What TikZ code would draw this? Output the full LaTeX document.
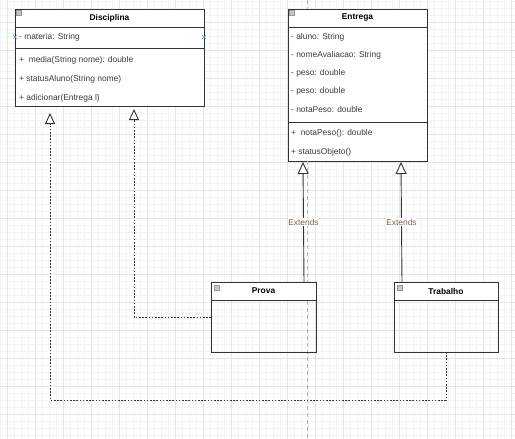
\documentclass[tikz,border=0pt]{standalone}
\usepackage{fontspec}
\setmainfont{Liberation Sans}
\usetikzlibrary{arrows.meta}
\definecolor{gridmaj}{HTML}{E4E4E4}
\definecolor{gridmin}{HTML}{F3F3F3}
\definecolor{edge}{HTML}{333333}
\definecolor{itemtxt}{HTML}{3A3A3A}
\definecolor{exttxt}{HTML}{7A6452}
\definecolor{selblue}{HTML}{29A8E0}
\definecolor{guide}{HTML}{B8B8B8}
\tikzset{
  classbox/.style={draw=edge, line width=0.9pt, rectangle, inner sep=0pt, fill=white},
  openbox/.style={draw=edge, line width=0.9pt, rectangle, inner sep=0pt},
  title/.style={font=\fontsize{8.4}{10}\selectfont\bfseries, text=black, inner sep=0pt},
  item/.style={font=\fontsize{8.4}{10}\selectfont, text=itemtxt, anchor=west, inner sep=0pt},
  sepline/.style={draw=edge, line width=0.9pt},
  icon/.style={draw=gray!80, fill=gray!45, line width=0.4pt, minimum size=5pt, inner sep=0pt},
  extends/.style={draw=edge, line width=0.9pt, -{Triangle[open, length=12pt, width=11pt, fill=white]}},
  realize/.style={draw=edge, line width=0.9pt, dash pattern=on 1.6pt off 1.6pt, -{Triangle[open, length=11pt, width=10pt, fill=white]}},
  extlabel/.style={font=\fontsize{8.4}{10}\selectfont, text=exttxt, fill=white, inner sep=0.5pt},
  selmark/.style={draw=selblue, line width=0.7pt},
}
\begin{document}
\begin{tikzpicture}[x=1pt,y=-1pt]
\useasboundingbox (0,0) rectangle (515,439);
\fill[white] (0,0) rectangle (515,439);
% grid
\foreach \k in {0,...,74} {
  \draw[gridmin, line width=0.5pt] ({\k*7},0) -- ({\k*7},439);
}
\foreach \k in {0,...,63} {
  \draw[gridmin, line width=0.5pt] (0,{\k*7+1}) -- (515,{\k*7+1});
}
\foreach \k in {0,...,18} {
  \draw[gridmaj, line width=0.8pt] ({7+\k*28},0) -- ({7+\k*28},439);
}
\foreach \k in {0,...,15} {
  \draw[gridmaj, line width=0.8pt] (0,{22+\k*28-28}) -- (515,{22+\k*28-28});
}

% Disciplina
\node[classbox, anchor=north west, minimum width=189pt, minimum height=97pt] (disc) at (15,9) {};
\draw[sepline] (15,27) -- (204,27);
\draw[sepline] (15,48) -- (204,48);
\node[icon] (discicon) at (18.5,12.5) {};
\node[title] (disct) at (109.5,18) {Disciplina};
\node[item] (d1) at (19,37) {- materia: String};
\node[item] (d2) at (19,60) {+\ \ media(String nome): double};
\node[item] (d3) at (19,79) {+ statusAluno(String nome)};
\node[item] (d4) at (19,98) {+ adicionar(Entrega l)};
\draw[selmark] (13,35) -- (17,39) (13,39) -- (17,35);
\draw[selmark] (202,35) -- (206,39) (202,39) -- (206,35);

% Entrega
\node[classbox, anchor=north west, minimum width=139pt, minimum height=152pt] (entr) at (288,9) {};
\draw[sepline] (288,27) -- (427,27);
\draw[sepline] (288,122) -- (427,122);
\node[icon] (entricon) at (291.5,12.5) {};
\node[title] (entrt) at (357.5,18) {Entrega};
\node[item] (e1) at (291,37) {- aluno: String};
\node[item] (e2) at (291,55) {- nomeAvaliacao: String};
\node[item] (e3) at (291,73) {- peso: double};
\node[item] (e4) at (291,91) {- peso: double};
\node[item] (e5) at (291,109) {- notaPeso: double};
\node[item] (e6) at (291,133) {+\ \ notaPeso(): double};
\node[item] (e7) at (291,152) {+ statusObjeto()};

% guide (drawn over the transparent bodies below, hidden by the filled class boxes above)
\draw[guide, line width=0.6pt, dash pattern=on 4pt off 3pt] (307,0) -- (307,9);
\draw[guide, line width=0.6pt, dash pattern=on 4pt off 3pt] (307,161) -- (307,439);

% Prova
\fill[white] (211,282) rectangle (316,300);
\node[openbox, anchor=north west, minimum width=105pt, minimum height=70pt] (prova) at (211,282) {};
\draw[sepline] (211,300) -- (316,300);
\node[icon] (provaicon) at (216.5,287.5) {};
\node[title] (provat) at (263.5,291) {Prova};

% Trabalho
\fill[white] (394,282) rectangle (498,300);
\node[openbox, anchor=north west, minimum width=104pt, minimum height=70pt] (trab) at (394,282) {};
\draw[sepline] (394,300) -- (498,300);
\node[icon] (trabicon) at (399.5,287.5) {};
\node[title] (trabt) at (446,291) {Trabalho};

% coordinates
\coordinate (pe1) at (304,282);
\coordinate (pe2) at (303,162);
\coordinate (te1) at (402,282);
\coordinate (te2) at (401,162);
\coordinate (pl) at (211,317);
\coordinate (pc) at (134,317);
\coordinate (pd) at (134,109);
\coordinate (tb) at (446,352);
\coordinate (tc) at (446,400);
\coordinate (td) at (50,400);
\coordinate (dd) at (50,113);

% extends
\draw[extends] (pe1) -- node[extlabel, pos=0.5] (ext1) {Extends} (pe2);
\draw[extends] (te1) -- node[extlabel, pos=0.5] (ext2) {Extends} (te2);

% realizations
\draw[realize] (pl) -- (pc) -- (pd);
\draw[realize] (tb) -- (tc) -- (td) -- (dd);
\end{tikzpicture}
\end{document}
